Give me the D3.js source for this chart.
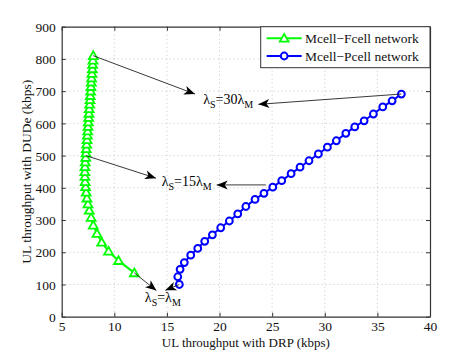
<!DOCTYPE html>
<html><head><meta charset="utf-8">
<script src="https://cdn.jsdelivr.net/npm/d3@7"></script>
<style>
html,body{margin:0;padding:0;background:#fff;}
svg{display:block;font-family:"Liberation Serif","DejaVu Serif",serif;}
</style></head>
<body><svg id="c" width="474" height="356"></svg>
<script>
const xTicks = [5,10,15,20,25,30,35,40];
const yTicks = [0,100,200,300,400,500,600,700,800,900];
const seriesNames = ["Mcell\u2212Fcell network","Mcell\u2212Pcell network"];
const greenX = [11.9,10.4,9.45,8.8,8.35,8.0,7.8,7.62,7.5,7.4,7.33,7.27,7.23,7.21,7.2,7.21,7.24,
  7.28,7.31,7.34,7.37,7.41,7.44,7.47,7.50,7.53,7.56,7.59,7.62,7.66,7.69,7.72,7.75,7.78,7.81,7.84,7.87,7.91,7.94,7.97,8.0];
const greenY = [136,174,203,231,258,284,308,330,350,368,386,403,419,435,450,465,480,
  494,508,521,535,549,563,576,590,604,618,631,645,659,673,686,700,714,728,741,755,769,783,796,810];
const blueX = [16.18,16.03,16.25,16.65,17.26,17.93,18.59,19.32,20.11,20.93,21.73,22.5,23.37,24.22,25.06,25.91,26.8,27.65,28.5,29.39,30.25,31.1,32.0,32.85,33.74,34.62,35.51,36.4,37.28];
const blueY = [100,124,147,168,191,212,234,254,276,297,319,342,364,383,402,422,444,464,484,505,526,546,569,589,608,629,651,670,691];
// annotations: label, label anchor (data), arrows [from, to] in data units
const annLabels = [["30", 18.45, 659], ["15", 14.5, 405], ["", 12.9, 45]];
const annArrows = [
  [[8.0,810],[17.67,691]], [[37.28,691],[23.69,659]],
  [[7.3,500],[13.96,430]], [[24.4,409],[19.73,409]],
  [[11.9,136],[14.0,81]], [[16.18,100],[14.85,82]]
];

const svg = d3.select("#c");
const m = {l:61.7, r:430, t:26.7, b:316.7};
const x = d3.scaleLinear().domain([5,40]).range([m.l,m.r]);
const y = d3.scaleLinear().domain([0,900]).range([m.b,m.t]);

// grid
const g = svg.append("g");
g.selectAll("line.gx").data(xTicks.slice(1,-1)).enter().append("line")
  .attr("x1",d=>x(d)).attr("x2",d=>x(d)).attr("y1",m.t).attr("y2",m.b)
  .attr("stroke","#b8b8b8").attr("stroke-width",0.8).attr("stroke-dasharray","1,3");
g.selectAll("line.gy").data(yTicks.slice(1,-1)).enter().append("line")
  .attr("y1",d=>y(d)).attr("y2",d=>y(d)).attr("x1",m.l).attr("x2",m.r)
  .attr("stroke","#b8b8b8").attr("stroke-width",0.8).attr("stroke-dasharray","1,3");

// axes
const xa = svg.append("g").attr("transform",`translate(0,${m.b})`)
  .call(d3.axisBottom(x).tickValues(xTicks).tickSizeInner(-4).tickSizeOuter(0).tickPadding(6));
const ya = svg.append("g").attr("transform",`translate(${m.l},0)`)
  .call(d3.axisLeft(y).tickValues(yTicks).tickSizeInner(-4).tickSizeOuter(0).tickPadding(6));
const xt = svg.append("g").attr("transform",`translate(0,${m.t})`)
  .call(d3.axisTop(x).tickValues(xTicks).tickSizeInner(-4).tickSizeOuter(0).tickFormat(""));
const yr = svg.append("g").attr("transform",`translate(${m.r},0)`)
  .call(d3.axisRight(y).tickValues(yTicks).tickSizeInner(-4).tickSizeOuter(0).tickFormat(""));
[xa,ya,xt,yr].forEach(a=>{
  a.select(".domain").attr("stroke","#333").attr("stroke-width",1.2);
  a.selectAll(".tick line").attr("stroke","#333");
  a.selectAll("text").attr("font-family","Liberation Serif").attr("font-size",13.5).attr("fill","#111");
});
xa.selectAll("text").attr("dy","0.62em");
ya.selectAll("text").attr("dy","0.35em");

// axis labels
svg.append("text").attr("x",(m.l+m.r)/2).attr("y",347).attr("text-anchor","middle")
  .attr("font-size",13).attr("fill","#111").text("UL throughput with DRP (kbps)");
svg.append("text").attr("transform",`translate(31,${(m.t+m.b)/2}) rotate(-90)`).attr("text-anchor","middle")
  .attr("font-size",13.5).attr("fill","#111").text("UL throughput with DUDe (kbps)");

// series
const green = greenX.map((v,i)=>[v,greenY[i]]);
const blue = blueX.map((v,i)=>[v,blueY[i]]);
const line = d3.line().x(d=>x(d[0])).y(d=>y(d[1]));
svg.append("path").datum(green).attr("d",line).attr("fill","none").attr("stroke","#00ff00").attr("stroke-width",2);
svg.append("path").datum(blue).attr("d",line).attr("fill","none").attr("stroke","#0000ff").attr("stroke-width",2);
const tri = d3.symbol().type(d3.symbolTriangle).size(34);
svg.append("g").selectAll("path").data(green).enter().append("path")
  .attr("d",tri).attr("transform",d=>`translate(${x(d[0])},${y(d[1])+0.8})`)
  .attr("fill","#fff").attr("stroke","#00ff00").attr("stroke-width",1.8);
svg.append("g").selectAll("circle").data(blue).enter().append("circle")
  .attr("cx",d=>x(d[0])).attr("cy",d=>y(d[1])).attr("r",3.4)
  .attr("fill","#fff").attr("stroke","#0000ff").attr("stroke-width",2);

// arrows
const defs = svg.append("defs");
defs.append("marker").attr("id","ah").attr("viewBox","-12 -5 14 10").attr("refX",0).attr("refY",0)
  .attr("markerWidth",14).attr("markerHeight",10).attr("markerUnits","userSpaceOnUse").attr("orient","auto")
  .append("path").attr("d","M0,0 L-11,-4.5 L-8,0 L-11,4.5 Z").attr("fill","#000");
svg.append("g").selectAll("line").data(annArrows).enter().append("line")
  .attr("x1",d=>x(d[0][0])).attr("y1",d=>y(d[0][1])).attr("x2",d=>x(d[1][0])).attr("y2",d=>y(d[1][1]))
  .attr("stroke","#222").attr("stroke-width",0.9).attr("marker-end","url(#ah)");

// labels
annLabels.forEach(a=>{
  const t = svg.append("text").attr("x",x(a[1])).attr("y",y(a[2])).attr("font-size",14).attr("fill","#000");
  t.append("tspan").text("\u03bb");
  t.append("tspan").attr("font-size",10).attr("dy",4).text("S");
  t.append("tspan").attr("dy",-4).text("=" + a[0] + "\u03bb");
  t.append("tspan").attr("font-size",10).attr("dy",4).text("M");
});

// legend
const lg = svg.append("g");
lg.append("rect").attr("x",260.7).attr("y",m.t).attr("width",m.r-260.7).attr("height",41)
  .attr("fill","#fff").attr("stroke","#333").attr("stroke-width",1);
const cols = ["#00ff00","#0000ff"];
seriesNames.forEach((n,i)=>{
  const yy = 38.3 + i*17.7;
  lg.append("line").attr("x1",266.7).attr("x2",301.7).attr("y1",yy).attr("y2",yy).attr("stroke",cols[i]).attr("stroke-width",2);
  if(i===0) lg.append("path").attr("d",tri).attr("transform",`translate(284.2,${yy+0.8})`).attr("fill","#fff").attr("stroke",cols[i]).attr("stroke-width",1.8);
  else lg.append("circle").attr("cx",284.2).attr("cy",yy).attr("r",3.4).attr("fill","#fff").attr("stroke",cols[i]).attr("stroke-width",2);
  lg.append("text").attr("x",305).attr("y",yy+4.5).attr("font-size",13.5).attr("fill","#111").text(n);
});
</script></body></html>
